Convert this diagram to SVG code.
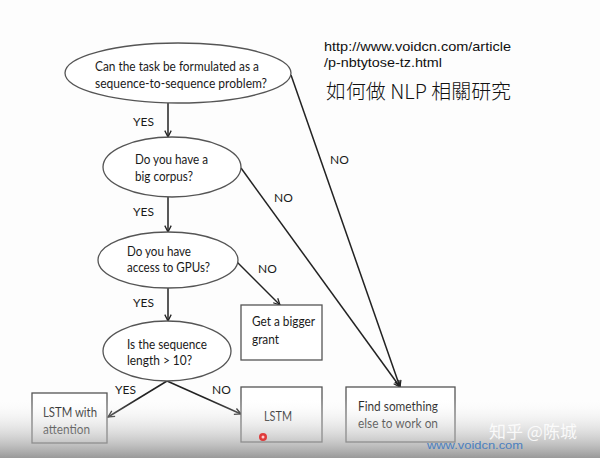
<svg xmlns="http://www.w3.org/2000/svg" width="600" height="458" viewBox="0 0 600 458">
<defs>
<style>
.t{font-family:Lato,"Open Sans","Liberation Sans",sans-serif;font-size:13px;fill:#1a1a1a}
.lbl{font-family:Lato,"Open Sans","Liberation Sans",sans-serif;font-size:12px;fill:#1a1a1a}
.sh{fill:#fff;stroke:#555;stroke-width:1.3}
.ln{stroke:#222;stroke-width:1.5;fill:none;marker-end:url(#ah)}
.cap{font-family:'Liberation Sans',sans-serif;font-size:13px;fill:#111}
</style>
<marker id="ah" viewBox="0 0 10 10" refX="9" refY="5" markerWidth="8" markerHeight="8" orient="auto" markerUnits="userSpaceOnUse">
<polyline points="1,1 9,5 1,9" fill="none" stroke="#222" stroke-width="1.6"/>
</marker>
<linearGradient id="bot" x1="0" y1="0" x2="0" y2="1">
<stop offset="0" stop-color="#ffffff" stop-opacity="0"/>
<stop offset="1" stop-color="#8e8e8e" stop-opacity="0.9"/>
</linearGradient>
</defs>
<rect width="600" height="458" fill="#fdfdfd"/>

<g id="connectors">
<line class="ln" x1="168" y1="103" x2="168" y2="137"/>
<line class="ln" x1="168" y1="197" x2="168" y2="232"/>
<line class="ln" x1="168" y1="288" x2="168" y2="321"/>
<line class="ln" x1="291" y1="75" x2="400" y2="387"/>
<line class="ln" x1="241" y1="168" x2="400" y2="387"/>
<line class="ln" x1="237" y1="262" x2="280" y2="305"/>
<line class="ln" x1="167" y1="381" x2="108" y2="417"/>
<line class="ln" x1="167" y1="381" x2="241" y2="414"/>
<text class="lbl" x="133" y="126">YES</text>
<text class="lbl" x="133" y="216">YES</text>
<text class="lbl" x="133" y="307">YES</text>
<text class="lbl" x="115" y="394">YES</text>
<text class="lbl" x="212" y="394">NO</text>
<text class="lbl" x="330" y="164">NO</text>
<text class="lbl" x="274" y="202">NO</text>
<text class="lbl" x="258" y="273">NO</text>
</g>

<g id="n1">
<ellipse class="sh" cx="178" cy="73" rx="113" ry="30"/>
<text class="t" x="95" y="71" textLength="164" lengthAdjust="spacingAndGlyphs">Can the task be formulated as a</text>
<text class="t" x="95" y="88" textLength="172" lengthAdjust="spacingAndGlyphs">sequence-to-sequence problem?</text>
</g>
<g id="n2">
<ellipse class="sh" cx="172" cy="167" rx="69" ry="30"/>
<text class="t" x="135" y="164" textLength="73" lengthAdjust="spacingAndGlyphs">Do you have a</text>
<text class="t" x="135" y="181" textLength="58" lengthAdjust="spacingAndGlyphs">big corpus?</text>
</g>
<g id="n3">
<ellipse class="sh" cx="168" cy="260" rx="70" ry="28"/>
<text class="t" x="127" y="256" textLength="64" lengthAdjust="spacingAndGlyphs">Do you have</text>
<text class="t" x="127" y="272" textLength="83" lengthAdjust="spacingAndGlyphs">access to GPUs?</text>
</g>
<g id="n4">
<ellipse class="sh" cx="167" cy="351" rx="64" ry="30"/>
<text class="t" x="127" y="349" textLength="80" lengthAdjust="spacingAndGlyphs">Is the sequence</text>
<text class="t" x="127" y="365" textLength="65" lengthAdjust="spacingAndGlyphs">length &gt; 10?</text>
</g>
<g id="n5">
<rect class="sh" x="241" y="305" width="81" height="55"/>
<text class="t" x="252" y="326" textLength="63" lengthAdjust="spacingAndGlyphs">Get a bigger</text>
<text class="t" x="252" y="344" textLength="27" lengthAdjust="spacingAndGlyphs">grant</text>
</g>
<g id="n6">
<rect class="sh" x="32" y="393" width="75" height="50"/>
<text class="t" x="43" y="417" textLength="54" lengthAdjust="spacingAndGlyphs">LSTM with</text>
<text class="t" x="43" y="434" textLength="47" lengthAdjust="spacingAndGlyphs">attention</text>
</g>
<g id="n7">
<rect class="sh" x="241" y="387" width="81" height="55"/>
<text class="t" x="264" y="421" textLength="28" lengthAdjust="spacingAndGlyphs">LSTM</text>
</g>
<g id="n8">
<rect class="sh" x="346" y="387" width="109" height="55"/>
<text class="t" x="358" y="411" textLength="80" lengthAdjust="spacingAndGlyphs">Find something</text>
<text class="t" x="358" y="428" textLength="80" lengthAdjust="spacingAndGlyphs">else to work on</text>
</g>

<g id="caption">
<text class="cap" x="324" y="51" textLength="187" lengthAdjust="spacingAndGlyphs">http://www.voidcn.com/article</text>
<text class="cap" x="324" y="67" textLength="118" lengthAdjust="spacingAndGlyphs">/p-nbtytose-tz.html</text>
<text x="326" y="99" textLength="185" lengthAdjust="spacingAndGlyphs" style="font-family:'Noto Sans CJK TC','Noto Sans',sans-serif;font-weight:300;font-size:20.5px;fill:#111">如何做 NLP 相關研究</text>
</g>

<rect x="0" y="398" width="600" height="60" fill="url(#bot)"/>
<circle cx="263" cy="437" r="4" fill="#e02020" opacity="0.85"/>
<circle cx="263" cy="437" r="1.5" fill="#ffcccc"/>
<g id="watermark">
<text x="489" y="438" style="font-family:'Noto Sans CJK SC',sans-serif;font-size:17px;fill:#ffffff;opacity:0.85">知乎 @陈城</text>
<text x="427" y="449" textLength="96" lengthAdjust="spacingAndGlyphs" style="font-family:'Liberation Sans',sans-serif;font-size:11px;fill:#4a7fc0">www.voidcn.com</text>
</g>
</svg>
